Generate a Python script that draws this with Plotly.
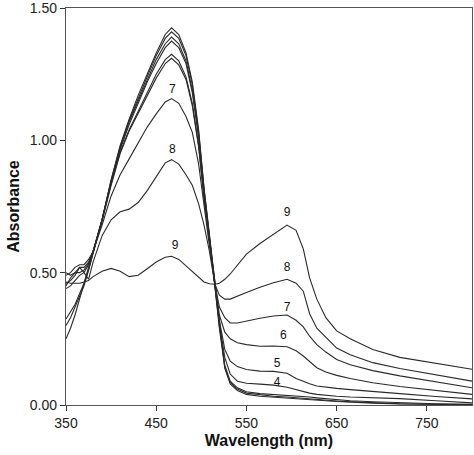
import plotly.graph_objects as go

wavelength = [350, 355, 360, 365, 370, 375, 380, 390, 400, 410, 420, 430, 440, 450, 460, 467,
              475, 483, 490, 497, 503, 509, 515, 520, 526, 532, 540, 550, 565, 580, 595, 605,
              613, 620, 628, 638, 650, 665, 690, 720, 760, 800]

curve1 = [0.30, 0.33, 0.37, 0.41, 0.45, 0.51, 0.57, 0.70, 0.85, 0.98, 1.08, 1.17, 1.25, 1.33, 1.40, 1.425,
          1.40, 1.33, 1.22, 1.04, 0.82, 0.64, 0.456, 0.30, 0.14, 0.085, 0.06, 0.045, 0.038, 0.033, 0.03, 0.027,
          0.025, 0.023, 0.02, 0.018, 0.015, 0.012, 0.008, 0.005, 0.003, 0.002]
curve2 = [0.25, 0.29, 0.34, 0.40, 0.45, 0.51, 0.57, 0.70, 0.85, 0.975, 1.075, 1.16, 1.24, 1.32, 1.385, 1.41,
          1.385, 1.32, 1.21, 1.03, 0.815, 0.64, 0.456, 0.29, 0.14, 0.08, 0.055, 0.04, 0.033, 0.03, 0.027, 0.025,
          0.023, 0.021, 0.018, 0.016, 0.013, 0.01, 0.007, 0.004, 0.002, 0.001]
curve3 = [0.325, 0.35, 0.38, 0.42, 0.46, 0.51, 0.57, 0.70, 0.845, 0.97, 1.07, 1.15, 1.23, 1.305, 1.365, 1.39,
          1.365, 1.30, 1.19, 1.02, 0.81, 0.635, 0.456, 0.30, 0.15, 0.09, 0.065, 0.05, 0.043, 0.04, 0.037, 0.034,
          0.032, 0.03, 0.027, 0.024, 0.02, 0.016, 0.012, 0.008, 0.005, 0.003]
curve4 = [0.44, 0.45, 0.47, 0.49, 0.50, 0.53, 0.58, 0.70, 0.84, 0.965, 1.06, 1.14, 1.22, 1.29, 1.35, 1.375,
          1.35, 1.29, 1.18, 1.01, 0.80, 0.63, 0.456, 0.31, 0.18, 0.117, 0.09, 0.082, 0.079, 0.075, 0.067, 0.057,
          0.05, 0.045, 0.04, 0.036, 0.033, 0.03, 0.027, 0.024, 0.016, 0.008]
curve5 = [0.46, 0.47, 0.49, 0.52, 0.52, 0.54, 0.58, 0.70, 0.835, 0.955, 1.04, 1.11, 1.18, 1.25, 1.305, 1.325,
          1.30, 1.24, 1.14, 0.98, 0.78, 0.62, 0.456, 0.32, 0.21, 0.166, 0.145, 0.134, 0.128, 0.127, 0.12, 0.10,
          0.09, 0.08, 0.072, 0.067, 0.063, 0.058, 0.052, 0.043, 0.032, 0.023]
curve6 = [0.45, 0.48, 0.50, 0.50, 0.51, 0.535, 0.575, 0.695, 0.83, 0.95, 1.035, 1.10, 1.17, 1.235, 1.29, 1.31,
          1.285, 1.23, 1.13, 0.975, 0.78, 0.62, 0.456, 0.34, 0.275, 0.25, 0.235, 0.228, 0.222, 0.223, 0.22, 0.205,
          0.185, 0.165, 0.141, 0.125, 0.112, 0.1, 0.084, 0.07, 0.055, 0.04]
curve7 = [0.49, 0.50, 0.52, 0.53, 0.53, 0.55, 0.58, 0.68, 0.79, 0.87, 0.93, 0.99, 1.05, 1.10, 1.145, 1.158,
          1.14, 1.09, 1.03, 0.91, 0.75, 0.60, 0.456, 0.37, 0.33, 0.31, 0.31, 0.318, 0.328, 0.336, 0.34, 0.32,
          0.295, 0.26, 0.228, 0.2, 0.172, 0.152, 0.13, 0.11, 0.088, 0.065]
curve8 = [0.50, 0.49, 0.50, 0.52, 0.50, 0.475, 0.54, 0.64, 0.70, 0.73, 0.74, 0.765, 0.81, 0.865, 0.915, 0.927,
          0.91, 0.87, 0.83, 0.76, 0.68, 0.58, 0.456, 0.415, 0.40, 0.40, 0.41, 0.425, 0.445, 0.462, 0.475, 0.46,
          0.43, 0.345, 0.29, 0.255, 0.215, 0.19, 0.16, 0.138, 0.115, 0.09]
curve9 = [0.465, 0.46, 0.46, 0.46, 0.465, 0.47, 0.485, 0.505, 0.516, 0.505, 0.485, 0.49, 0.515, 0.54, 0.558, 0.562,
          0.55, 0.525, 0.505, 0.48, 0.465, 0.458, 0.456, 0.46, 0.475, 0.495, 0.53, 0.57, 0.61, 0.645, 0.68, 0.66,
          0.59, 0.48, 0.40, 0.33, 0.28, 0.25, 0.21, 0.18, 0.157, 0.135]

curves = [curve1, curve2, curve3, curve4, curve5, curve6, curve7, curve8, curve9]

label_text = ["7", "8", "9", "9", "8", "7", "6", "5", "4"]
label_x = [468, 468, 471, 595, 595, 595, 591, 584, 584]
label_y = [1.19, 0.964, 0.60, 0.724, 0.516, 0.366, 0.26, 0.155, 0.083]

x_ticks = [350, 450, 550, 650, 750]
y_ticks = [0.0, 0.5, 1.0, 1.5]

fig = go.Figure()
for c in curves:
    fig.add_trace(go.Scatter(x=wavelength, y=c, mode="lines",
                             line=dict(color="#2a2a2a", width=1.1), showlegend=False))

fig.add_trace(go.Scatter(x=label_x, y=label_y, text=label_text, mode="text",
                         textfont=dict(family="Liberation Sans, Arial", size=12, color="#111"),
                         showlegend=False))

fig.update_layout(
    width=474, height=455,
    margin=dict(l=66, r=2, t=8, b=50),
    paper_bgcolor="white", plot_bgcolor="white",
    font=dict(family="Liberation Sans, Arial", color="#222"),
    xaxis=dict(range=[350, 800], tickvals=x_ticks, ticks="outside", ticklen=5,
               tickcolor="#333", showline=True, linecolor="#555", linewidth=1.3, mirror=True,
               showgrid=False, zeroline=False, tickfont=dict(size=14), automargin=False,
               title=dict(text="<b>Wavelength (nm)</b>", font=dict(size=16, color="#111"), standoff=4)),
    yaxis=dict(range=[0, 1.5], tickvals=y_ticks, tickformat=".2f", ticks="outside", ticklen=5,
               tickcolor="#333", showline=True, linecolor="#555", linewidth=1.3, mirror=True,
               showgrid=False, zeroline=False, tickfont=dict(size=14), ticklabeloverflow="allow",
               automargin=False,
               title=dict(text="<b>Absorbance</b>", font=dict(size=16, color="#111"), standoff=6)),
)

fig.write_html("out.html")
